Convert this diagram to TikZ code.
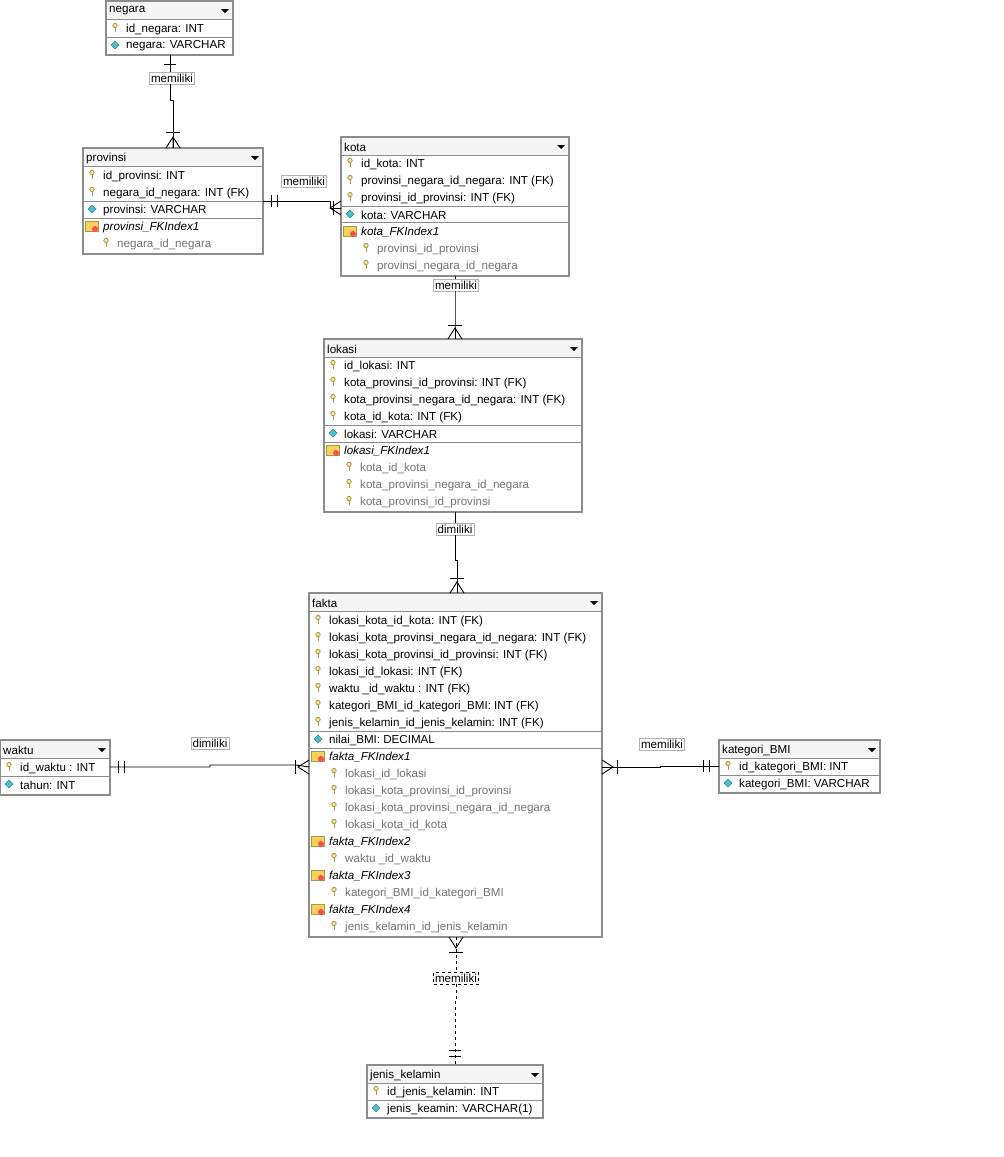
\documentclass[tikz,border=0pt]{standalone}
\usepackage{fontspec}
\setmainfont{Liberation Sans}
\usetikzlibrary{calc,positioning}
\definecolor{boxline}{rgb}{.55,.55,.55}
\definecolor{headfill}{rgb}{.96,.96,.96}
\definecolor{keygold}{rgb}{.65,.6,.3}
\definecolor{attrcyan}{rgb}{.3,.75,.8}
\definecolor{foldery}{rgb}{.98,.82,.35}

% a table: name, x1, y1, x2, y2, title
\newcommand\ertable[6]{%
	\node[tablebox,minimum width={(#4-#2)*1pt},minimum height={(#5-#3)*1pt}](#1) at (#2,#3) {};
	\fill[headfill] ($(#2,#3)+(1,1)$) rectangle ($(#4,#3)+(-1,18)$);
	\draw[boxline] (#2,#3+18) -- (#4,#3+18);
	\node[rowtext] at (#2+3,#3+10) {#6};
	\fill ($(#4,#3)+(-12,8)$) -- ++(8,0) -- ++(-4,4) -- cycle;
}
\newcommand\erkey[3]{% x, y, text
	\draw[keygold,fill=foldery!60,line width=.8pt] (#1+5,#2-2.5) circle (2.2);
	\draw[keygold,line width=1pt] (#1+5,#2) -- (#1+5,#2+4);
	\node[rowtext] at (#1+16,#2+1) {#3};
}
\newcommand\erattr[3]{%
	\draw[attrcyan!70!black,fill=attrcyan] (#1+5,#2-4) -- (#1+9,#2) -- (#1+5,#2+4) -- (#1+1,#2) -- cycle;
	\node[rowtext] at (#1+16,#2+1) {#3};
}
\newcommand\eridx[3]{%
	\draw[keygold,fill=foldery] (#1,#2-5) rectangle (#1+13,#2+5);
	\fill[red!70] (#1+10,#2+3) circle (3);
	\node[rowtext,font=\fontsize{11.6}{13}\selectfont\itshape] at (#1+18,#2+1) {#3};
}
\newcommand\eridxcol[3]{%
	\draw[keygold,fill=foldery!60,line width=.8pt] (#1+5,#2-2.5) circle (2.2);
	\draw[keygold,line width=1pt] (#1+5,#2) -- (#1+5,#2+4);
	\node[rowtext,text=gray!90!black] at (#1+16,#2+1) {#3};
}
\newcommand\ersep[3]{\draw[boxline] (#1,#3) -- (#2,#3);}

\begin{document}
\begin{tikzpicture}[x=1pt,y=-1pt,
		tablebox/.style={draw=boxline,line width=1.3pt,fill=white,anchor=north west,inner sep=0pt,outer sep=0pt},
		rowtext/.style={anchor=west,inner sep=0pt,font=\fontsize{11.6}{13}\selectfont},
		rel/.style={draw,fill=white,inner sep=1.5pt,font=\fontsize{11.6}{13}\selectfont,draw=gray!60},
		link/.style={line width=.9pt}
	]
	\useasboundingbox (0,0) rectangle (1004,1157);

	% tables
	\ertable{negara}{106}{1}{233}{55}{negara}
	\erkey{110}{28}{id\_negara: INT}
	\ersep{107}{232}{37}
	\erattr{110}{45}{negara: VARCHAR}

	\ertable{provinsi}{83}{148}{263}{254}{provinsi}
	\erkey{87}{175}{id\_provinsi: INT}
	\erkey{87}{192}{negara\_id\_negara: INT (FK)}
	\ersep{84}{262}{201}
	\erattr{87}{209}{provinsi: VARCHAR}
	\ersep{84}{262}{218}
	\eridx{85}{226}{provinsi\_FKIndex1}
	\eridxcol{101}{243}{negara\_id\_negara}

	\ertable{kota}{341}{137}{569}{276}{kota}
	\erkey{345}{163}{id\_kota: INT}
	\erkey{345}{180}{provinsi\_negara\_id\_negara: INT (FK)}
	\erkey{345}{197}{provinsi\_id\_provinsi: INT (FK)}
	\ersep{342}{568}{206}
	\erattr{345}{214}{kota: VARCHAR}
	\ersep{342}{568}{222}
	\eridx{343}{231}{kota\_FKIndex1}
	\eridxcol{361}{248}{provinsi\_id\_provinsi}
	\eridxcol{361}{265}{provinsi\_negara\_id\_negara}

	\ertable{lokasi}{324}{339}{582}{512}{lokasi}
	\erkey{328}{365}{id\_lokasi: INT}
	\erkey{328}{382}{kota\_provinsi\_id\_provinsi: INT (FK)}
	\erkey{328}{399}{kota\_provinsi\_negara\_id\_negara: INT (FK)}
	\erkey{328}{416}{kota\_id\_kota: INT (FK)}
	\ersep{325}{581}{425}
	\erattr{328}{433}{lokasi: VARCHAR}
	\ersep{325}{581}{442}
	\eridx{326}{450}{lokasi\_FKIndex1}
	\eridxcol{344}{467}{kota\_id\_kota}
	\eridxcol{344}{484}{kota\_provinsi\_negara\_id\_negara}
	\eridxcol{344}{501}{kota\_provinsi\_id\_provinsi}

	\ertable{fakta}{309}{593}{602}{937}{fakta}
	\erkey{313}{620}{lokasi\_kota\_id\_kota: INT (FK)}
	\erkey{313}{637}{lokasi\_kota\_provinsi\_negara\_id\_negara: INT (FK)}
	\erkey{313}{654}{lokasi\_kota\_provinsi\_id\_provinsi: INT (FK)}
	\erkey{313}{671}{lokasi\_id\_lokasi: INT (FK)}
	\erkey{313}{688}{waktu \_id\_waktu : INT (FK)}
	\erkey{313}{705}{kategori\_BMI\_id\_kategori\_BMI: INT (FK)}
	\erkey{313}{722}{jenis\_kelamin\_id\_jenis\_kelamin: INT (FK)}
	\ersep{310}{601}{731}
	\erattr{313}{739}{nilai\_BMI: DECIMAL}
	\ersep{310}{601}{748}
	\eridx{311}{756}{fakta\_FKIndex1}
	\eridxcol{329}{773}{lokasi\_id\_lokasi}
	\eridxcol{329}{790}{lokasi\_kota\_provinsi\_id\_provinsi}
	\eridxcol{329}{807}{lokasi\_kota\_provinsi\_negara\_id\_negara}
	\eridxcol{329}{824}{lokasi\_kota\_id\_kota}
	\eridx{311}{841}{fakta\_FKIndex2}
	\eridxcol{329}{858}{waktu \_id\_waktu}
	\eridx{311}{875}{fakta\_FKIndex3}
	\eridxcol{329}{892}{kategori\_BMI\_id\_kategori\_BMI}
	\eridx{311}{909}{fakta\_FKIndex4}
	\eridxcol{329}{926}{jenis\_kelamin\_id\_jenis\_kelamin}

	\ertable{waktu}{0}{740}{110}{795}{waktu}
	\erkey{4}{767}{id\_waktu : INT}
	\ersep{1}{109}{776}
	\erattr{4}{784}{tahun: INT}

	\ertable{kategori}{719}{740}{880}{793}{kategori\_BMI}
	\erkey{723}{766}{id\_kategori\_BMI: INT}
	\ersep{720}{879}{775}
	\erattr{723}{783}{kategori\_BMI: VARCHAR}

	\ertable{jenis}{367}{1065}{543}{1118}{jenis\_kelamin}
	\erkey{371}{1091}{id\_jenis\_kelamin: INT}
	\ersep{368}{542}{1100}
	\erattr{371}{1108}{jenis\_keamin: VARCHAR(1)}

	% relation labels
	\node[rel](r1) at (172,78) {memiliki};
	\node[rel](r2) at (304,181) {memiliki};
	\node[rel](r3) at (456,285) {memiliki};
	\node[rel](r4) at (455,529) {dimiliki};
	\node[rel](r5) at (210,743) {dimiliki};
	\node[rel](r6) at (662,744) {memiliki};
	\node[rel,dashed,draw=black](r7) at (456,978) {memiliki};

	% negara - provinsi
	\draw[link] (negara.south -| 170,0) -- (r1.north -| 170,0);
	\draw[link] (164,64) -- (176,64);
	\draw[link] (r1.south -| 170,0) -- (170,100) -- (173,100) -- (provinsi.north -| 173,0);
	\draw[link] (166,132) -- (180,132);
	\draw[link] (166,148) -- (173,137) -- (180,148) (173,137) -- (173,148);

	% provinsi - kota
	\draw[link] (provinsi.east |- 0,201) -- (330,201) -- (330,208) -- (kota.west |- 0,208);
	\draw[link] (271,195) -- (271,207) (277,195) -- (277,207);
	\draw[link] (333,201) -- (333,215);
	\draw[link] (341,201) -- (330,208) -- (341,215);

	% kota - lokasi
	\draw[link] (kota.south -| 455,0) -- (r3.north -| 455,0);
	\draw[link] (r3.south -| 455,0) -- (455,320) -- (lokasi.north -| 455,0);
	\draw[link] (448,325) -- (462,325);
	\draw[link] (448,339) -- (455,328) -- (462,339);

	% lokasi - fakta
	\draw[link] (lokasi.south -| 455,0) -- (r4.north -| 455,0);
	\draw[link] (r4.south -| 455,0) -- (455,560) -- (457,560) -- (fakta.north -| 457,0);
	\draw[link] (450,578) -- (464,578);
	\draw[link] (450,593) -- (457,582) -- (464,593);

	% waktu - fakta
	\draw[link] (waktu.east |- 0,767) -- (210,767) -- (210,765) -- (296,765) -- (fakta.west |- 0,767);
	\draw[link] (118,761) -- (118,773) (124,761) -- (124,773);
	\draw[link] (295,760) -- (295,774);
	\draw[link] (309,760) -- (298,767) -- (309,774);

	% kategori - fakta
	\draw[link] (kategori.west |- 0,766) -- (660,766) -- (660,767) -- (fakta.east |- 0,767);
	\draw[link] (703,760) -- (703,772) (709,760) -- (709,772);
	\draw[link] (617,760) -- (617,774);
	\draw[link] (602,760) -- (613,767) -- (602,774);

	% fakta - jenis_kelamin
	\draw[link,dashed] (fakta.south -| 456,0) -- (r7.north -| 456,0);
	\draw[link,dashed] (r7.south -| 456,0) -- (456,1000) -- (455,1000) -- (jenis.north -| 455,0);
	\draw[link] (449,952) -- (463,952);
	\draw[link] (449,937) -- (456,948) -- (463,937);
	\draw[link] (449,1050) -- (461,1050) (449,1056) -- (461,1056);
\end{tikzpicture}
\end{document}
